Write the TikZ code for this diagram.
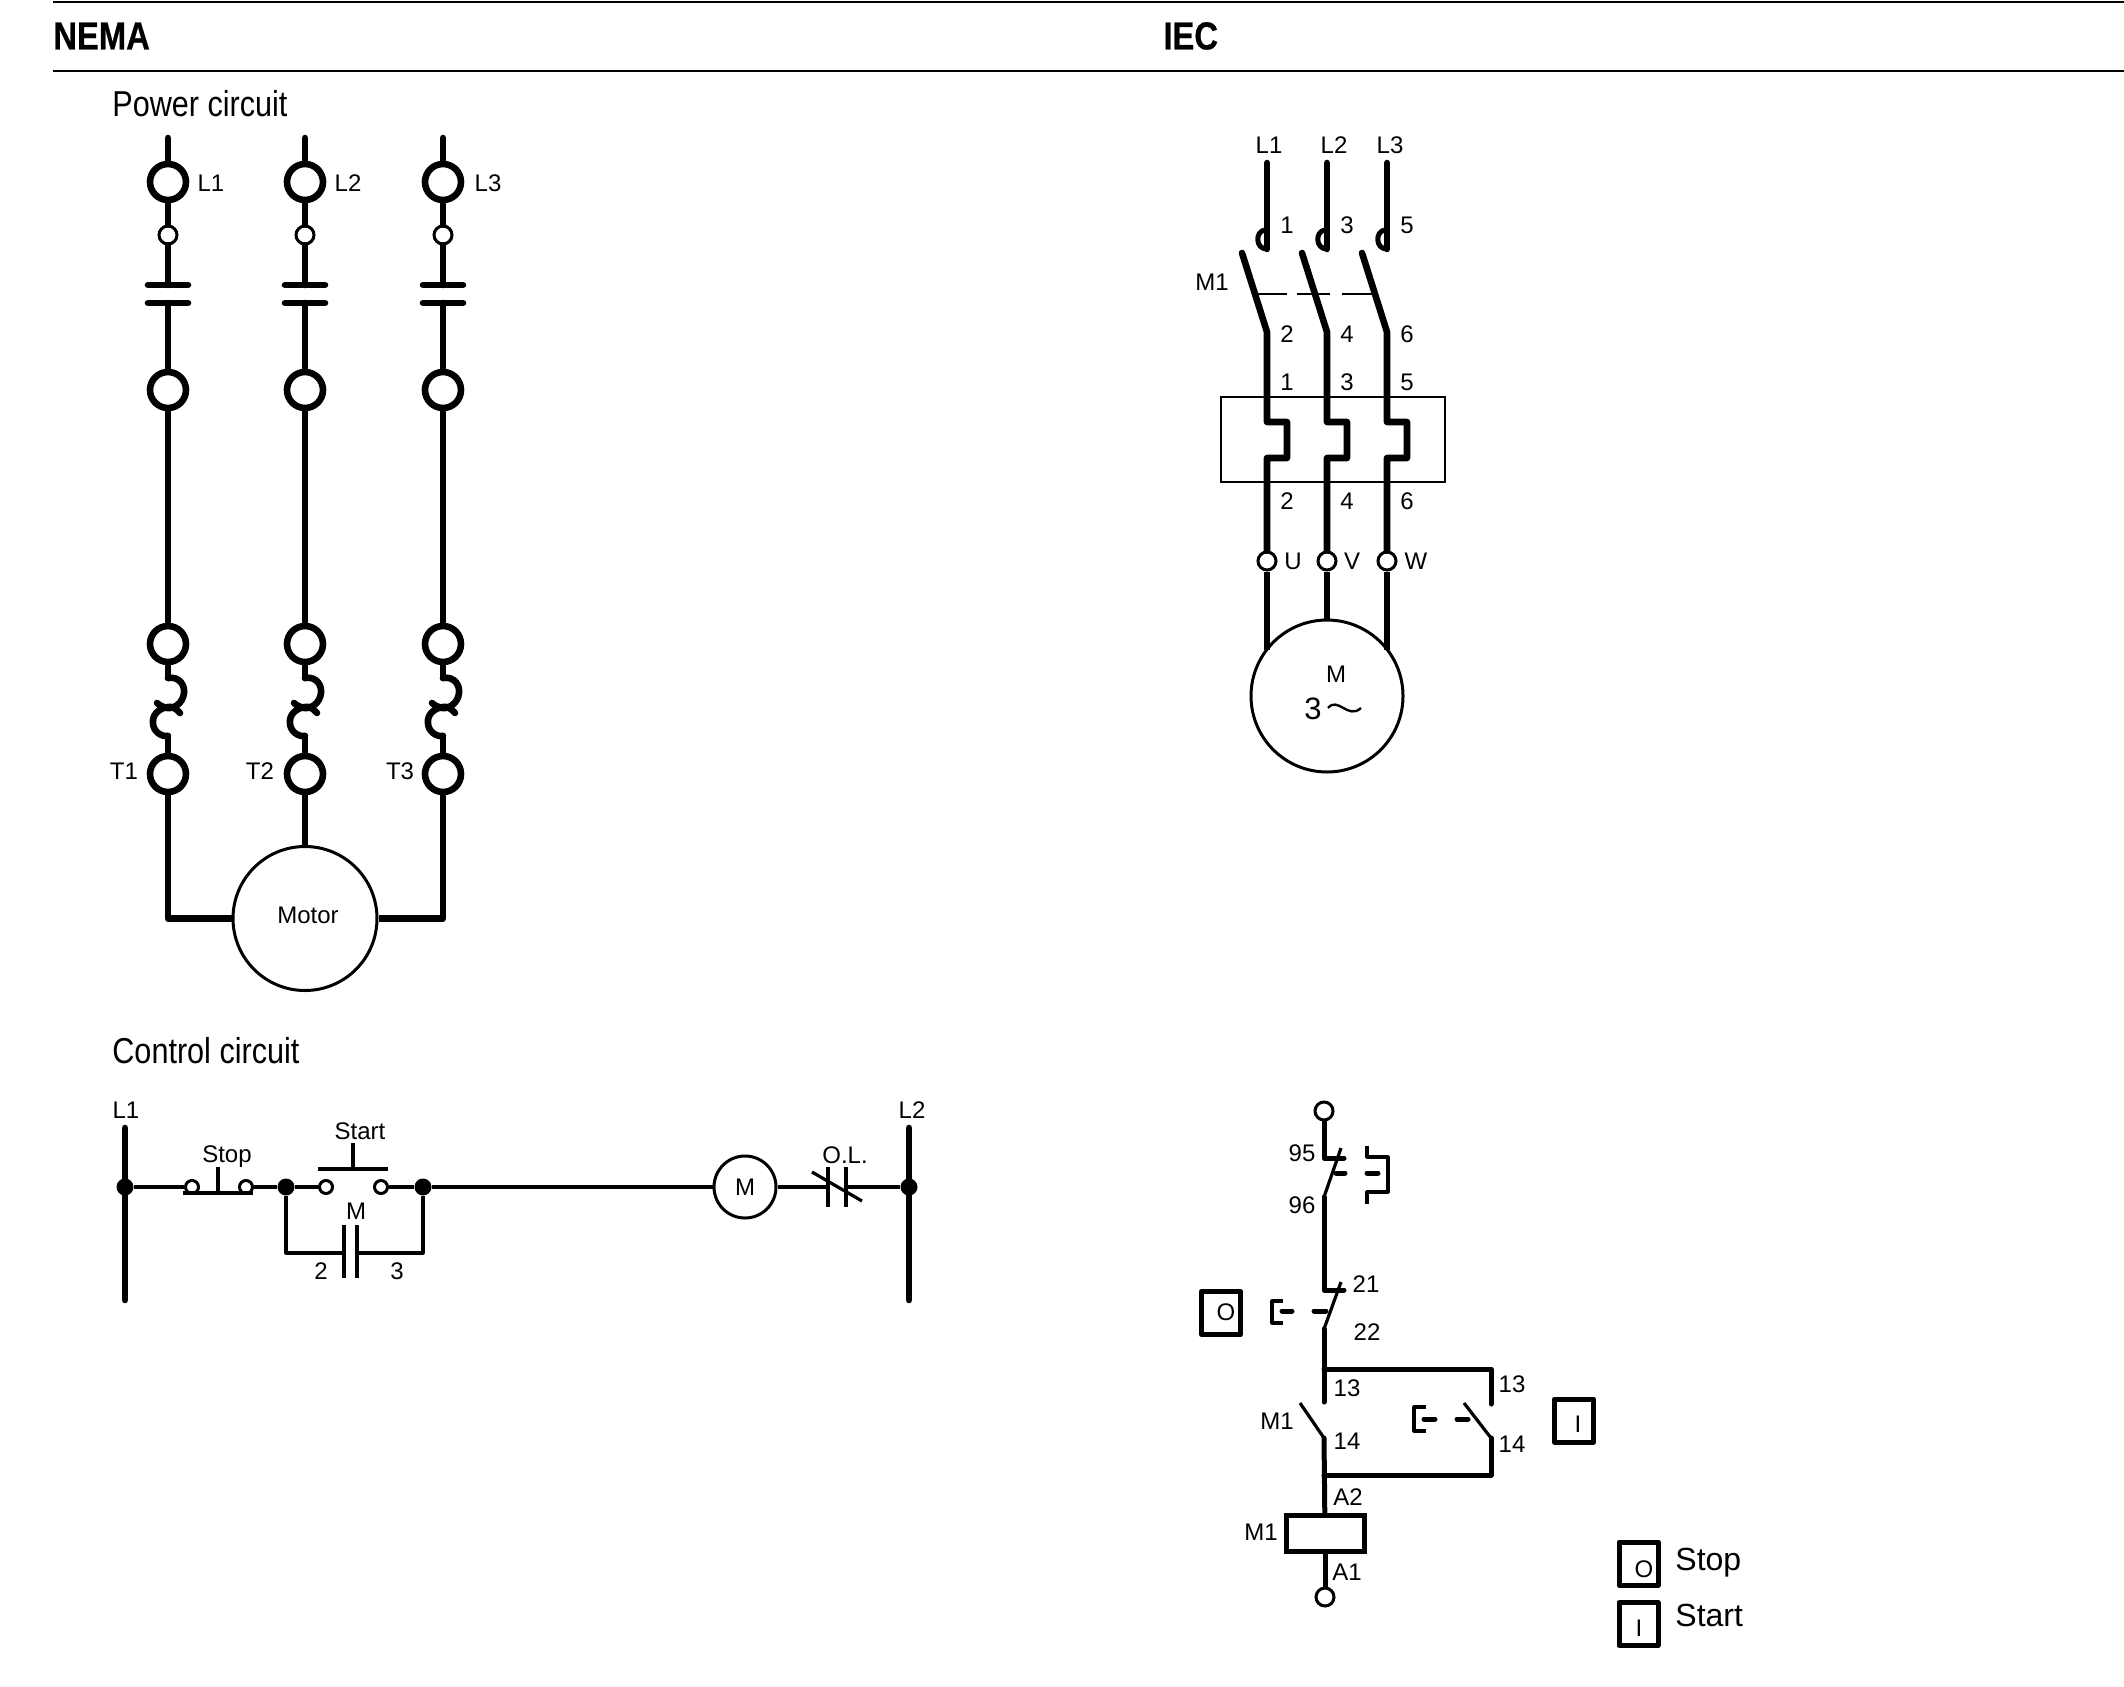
\documentclass[tikz,border=0pt]{standalone}
\usepackage{fontspec}
\setmainfont{Liberation Sans}
\newfontfamily\headfont[FakeStretch=0.84,BoldFeatures={FakeBold=0.5}]{Liberation Sans}
\newfontfamily\subfont[FakeStretch=0.85]{Liberation Sans}
\tikzset{
  heavy/.style={line width=3.3pt, line cap=round, line join=round},
  medium/.style={line width=2.5pt, line cap=round, line join=round},
  wire/.style={line width=1.6pt, line join=round},
  bigterm/.style={circle, draw, line width=3.3pt, inner sep=0pt, minimum size=18pt},
  smallterm/.style={circle, draw, line width=1.5pt, inner sep=0pt, minimum size=9pt},
  pushterm/.style={circle, draw, line width=1.5pt, inner sep=0pt, minimum size=6.5pt},
  junction/.style={circle, fill, inner sep=0pt, minimum size=8.5pt},
  motorbody/.style={circle, draw, line width=1.5pt, inner sep=0pt},
  keybox/.style={rectangle, draw, line width=2.5pt, line join=round, inner sep=0pt, minimum width=19.5pt, minimum height=21.5pt},
  lbl/.style={inner sep=0pt, font=\fontsize{12}{14}\selectfont},
  biglbl/.style={inner sep=0pt, anchor=base west, font=\fontsize{16}{18}\selectfont},
  headlbl/.style={inner sep=0pt, anchor=west, font=\headfont\bfseries\fontsize{19.5}{22}\selectfont},
  sublbl/.style={inner sep=0pt, anchor=west, font=\subfont\fontsize{18}{22}\selectfont}
}
\begin{document}
\begin{tikzpicture}[x=0.5pt, y=-0.5pt]
\useasboundingbox (0,0) rectangle (2124,1686);

% headings
\coordinate (topA) at (53,2);
\coordinate (topB) at (2124,2);
\coordinate (subA) at (53,71);
\coordinate (subB) at (2124,71);
\draw[line width=1pt] (topA) -- (topB);
\draw[line width=1pt] (subA) -- (subB);
\node[headlbl] (nema) at (53,36) {NEMA};
\node[headlbl] (iec) at (1163,36) {IEC};
\node[sublbl] (powertitle) at (112,104) {Power circuit};
\node[sublbl] (controltitle) at (112,1051) {Control circuit};

% NEMA power circuit
\node[motorbody, minimum size=72pt] (nemamotor) at (305,918.5) {};
\node[lbl] (nemamotortext) at (308,915) {Motor};
\foreach \x/\n/\lx/\tx in {168/1/211/124, 305/2/348/260, 443/3/488/400} {
  \coordinate (feed\n) at (\x,138);
  \node[bigterm] (line\n) at (\x,182) {};
  \node[lbl] (linetext\n) at (\lx,183) {L\n};
  \node[smallterm] (aux\n) at (\x,235) {};
  \coordinate (plateA\n) at (\x,285);
  \coordinate (plateB\n) at (\x,303);
  \node[bigterm] (load\n) at (\x,390) {};
  \node[bigterm] (heat\n) at (\x,644) {};
  \coordinate (curlA\n) at (\x,678);
  \coordinate (curlB\n) at (\x,736);
  \node[bigterm] (motorterm\n) at (\x,774) {};
  \node[lbl] (motortermtext\n) at (\tx,771) {T\n};
  \draw[heavy] (feed\n) -- (line\n);
  \draw[heavy] (line\n) -- (aux\n);
  \draw[heavy] (aux\n) -- (plateA\n);
  \draw[heavy] (\x-20,285) -- (\x+20,285);
  \draw[heavy] (\x-20,303) -- (\x+20,303);
  \draw[heavy] (plateB\n) -- (load\n);
  \draw[heavy] (load\n) -- (heat\n);
  \draw[heavy] (heat\n) -- (curlA\n);
  \draw[heavy] (curlA\n) .. controls (\x+12,676) and (\x+17,686) .. (\x+16,693)
     .. controls (\x+15,703) and (\x+6,709) .. (\x-1,708)
     .. controls (\x-4,707) and (\x-8,706) .. (\x-11,703);
  \draw[heavy] (\x+12,713) .. controls (\x+8,708) and (\x+3,706) .. (\x,707)
     .. controls (\x-8,708) and (\x-16,714) .. (\x-15,723)
     .. controls (\x-15,731) and (\x-7,737) .. (curlB\n);
  \draw[heavy] (curlB\n) -- (motorterm\n);
}
\draw[heavy, line cap=butt] (motorterm1) |- (nemamotor.west);
\draw[heavy, line cap=butt] (motorterm2) -- (nemamotor.north);
\draw[heavy, line cap=butt] (motorterm3) |- (nemamotor.east);

% NEMA control circuit
\coordinate (busAtop) at (125,1128);
\coordinate (busAbot) at (125,1300);
\coordinate (busBtop) at (909,1128);
\coordinate (busBbot) at (909,1300);
\draw[heavy] (busAtop) -- (busAbot);
\draw[heavy] (busBtop) -- (busBbot);
\node[lbl] (busAtext) at (126,1110) {L1};
\node[lbl] (busBtext) at (912,1110) {L2};
\node[junction] (dotL) at (125,1187) {};
\node[junction] (dotA) at (286,1187) {};
\node[junction] (dotB) at (423,1187) {};
\node[junction] (dotR) at (909,1187) {};
\node[pushterm] (stopL) at (192,1187) {};
\node[pushterm] (stopR) at (246,1187) {};
\node[pushterm] (startL) at (326,1187) {};
\node[pushterm] (startR) at (381,1187) {};
\node[motorbody, minimum size=31pt] (coil) at (745,1187) {};
\node[lbl] (coiltext) at (745,1187) {M};
\coordinate (olL) at (828,1187);
\coordinate (olR) at (846,1187);
\coordinate (auxL) at (344,1253);
\coordinate (auxR) at (357,1253);
\draw[wire] (dotL) -- (stopL);
\draw[wire] (stopR) -- (dotA);
\draw[wire] (dotA) -- (startL);
\draw[wire] (startR) -- (dotB);
\draw[wire] (dotB) -- (coil);
\draw[wire] (coil) -- (olL);
\draw[wire] (olR) -- (dotR);
\draw[wire] (dotA) |- (auxL);
\draw[wire] (dotB) |- (auxR);
\draw[wire] (344,1225) -- (344,1278);
\draw[wire] (357,1225) -- (357,1278);
\draw[wire] (828,1167) -- (828,1207);
\draw[wire] (846,1167) -- (846,1207);
\draw[wire] (812,1172) -- (862,1201);
\draw[wire] (183,1193) -- (253,1193);
\draw[wire] (218,1167) -- (218,1193);
\draw[wire] (318,1169) -- (388,1169);
\draw[wire] (353,1143) -- (353,1169);
\node[lbl] (stoptext) at (227,1157) {Stop};
\node[lbl] (starttext) at (360,1131) {Start};
\node[lbl] (auxtext) at (356,1211) {M};
\node[lbl] (auxtextL) at (321,1271) {2};
\node[lbl] (auxtextR) at (397,1271) {3};
\node[lbl] (oltext) at (845,1155) {O.L.};

% IEC power circuit
\node[draw, line width=1pt, inner sep=0pt, minimum width=112pt, minimum height=42.5pt] (relay) at (1333,439.5) {};
\node[motorbody, minimum size=76pt] (iecmotor) at (1327,696) {};
\node[lbl] (iecmotortext) at (1336,674) {M};
\node[inner sep=0pt, font=\fontsize{15.5}{18}\selectfont] (phasetext) at (1313,709) {3};
\coordinate (waveA) at (1328,708);
\coordinate (waveB) at (1361,708);
\draw[wire, line width=1.2pt] (waveA) .. controls (1338,696) and (1348,720) .. (waveB);
\foreach \x/\n/\lx/\a/\b/\u/\ux in {1267/1/1269/1/2/U/1293, 1327/2/1334/3/4/V/1352, 1387/3/1390/5/6/W/1416} {
  \coordinate (supply\n) at (\x,163);
  \coordinate (fixed\n) at (\x,249);
  \coordinate (blade\n) at (\x-25,253);
  \coordinate (pivot\n) at (\x,332);
  \coordinate (stepA\n) at (\x,422);
  \coordinate (stepB\n) at (\x+20,422);
  \coordinate (stepC\n) at (\x+20,458);
  \coordinate (stepD\n) at (\x,458);
  \node[smallterm] (out\n) at (\x,561) {};
  \node[lbl] (supplytext\n) at (\lx,145) {L\n};
  \node[lbl] (numA\n) at (\x+20,225) {\a};
  \node[lbl] (numB\n) at (\x+20,334) {\b};
  \node[lbl] (numC\n) at (\x+20,382) {\a};
  \node[lbl] (numD\n) at (\x+20,501) {\b};
  \node[lbl] (outtext\n) at (\ux,561) {\u};
  \draw[heavy] (supply\n) -- (fixed\n);
  \draw[medium] (\x-2,230) .. controls (\x-12,231) and (\x-12,249) .. (fixed\n);
  \draw[heavy] (blade\n) -- (pivot\n) -- (stepA\n) -- (stepB\n) -- (stepC\n) -- (stepD\n) -- (out\n);
}
\coordinate (iecleadA) at (1267,650);
\coordinate (iecleadC) at (1387,650);
\draw[heavy, line cap=butt] (out1) -- (iecleadA);
\draw[heavy, line cap=butt] (out2) -- (iecmotor.north);
\draw[heavy, line cap=butt] (out3) -- (iecleadC);
\draw[wire, line width=1.3pt] (1257,294) -- (1287,294);
\draw[wire, line width=1.3pt] (1297,294) -- (1330,294);
\draw[wire, line width=1.3pt] (1342,294) -- (1373,294);
\node[lbl] (contactor) at (1212,282) {M1};

% IEC control circuit
\node[smallterm] (inA) at (1324,1111) {};
\node[smallterm] (inB) at (1325,1597) {};
\node[rectangle, draw, line width=2.5pt, inner sep=0pt, minimum width=39pt, minimum height=18pt] (iecoil) at (1325,1533) {};
\coordinate (ovtop) at (1324,1158);
\coordinate (ovbot) at (1324,1197);
\coordinate (offtop) at (1324,1290);
\coordinate (offbot) at (1324,1329);
\coordinate (jointA) at (1324,1369);
\coordinate (holdtop) at (1324,1402);
\coordinate (holdbot) at (1324,1438);
\coordinate (jointB) at (1324,1475);
\coordinate (ontop) at (1491,1404);
\coordinate (onbot) at (1491,1438);
\draw[medium] (inA) -- (ovtop) -- (1344,1158);
\draw[medium] (ovbot) -- (offtop) -- (1344,1290);
\draw[medium] (offbot) -- (holdtop);
\draw[medium] (jointA) -| (ontop);
\draw[medium] (holdbot) -- (iecoil);
\draw[medium] (jointB) -| (onbot);
\draw[medium] (iecoil) -- (inB);
\draw[wire] (1341,1148) -- (ovbot);
\draw[wire] (1341,1282) -- (offbot);
\draw[wire] (1300,1403) -- (holdbot);
\draw[wire] (1464,1403) -- (onbot);
\draw[medium] (1336,1173) -- (1345,1173);
\draw[medium] (1367,1173) -- (1378,1173);
\draw[wire] (1367,1146) |- (1388,1157) |- (1367,1192) -- (1367,1204);
\draw[medium] (1282,1311) -- (1292,1311);
\draw[medium] (1314,1311) -- (1326,1311);
\draw[wire] (1283,1301) -| (1272,1323) -- (1283,1323);
\draw[medium] (1424,1419) -- (1435,1419);
\draw[medium] (1457,1419) -- (1468,1419);
\draw[wire] (1426,1407) -| (1414,1431) -- (1426,1431);
\node[lbl] (t95) at (1302,1153) {95};
\node[lbl] (t96) at (1302,1205) {96};
\node[lbl] (t21) at (1366,1284) {21};
\node[lbl] (t22) at (1367,1332) {22};
\node[lbl] (t13a) at (1347,1388) {13};
\node[lbl] (t14a) at (1347,1441) {14};
\node[lbl] (t13b) at (1512,1384) {13};
\node[lbl] (t14b) at (1512,1444) {14};
\node[lbl] (holdtext) at (1277,1421) {M1};
\node[lbl] (t2) at (1348,1497) {A2};
\node[lbl] (t1) at (1347,1572) {A1};
\node[lbl] (coillabel) at (1261,1532) {M1};

% keys and legend
\node[keybox] (offkey) at (1221,1313) {};
\node[lbl] (offtext) at (1226,1312) {O};
\node[keybox] (onkey) at (1574,1420.5) {};
\node[lbl] (ontext) at (1578,1424) {I};
\node[keybox] (stopkey) at (1638.5,1563.5) {};
\node[lbl] (stopkeytext) at (1644,1569) {O};
\node[keybox] (startkey) at (1638.5,1624) {};
\node[lbl] (startkeytext) at (1639,1628) {I};
\node[biglbl] (legendstop) at (1675,1570) {Stop};
\node[biglbl] (legendstart) at (1675,1626) {Start};
\end{tikzpicture}
\end{document}
